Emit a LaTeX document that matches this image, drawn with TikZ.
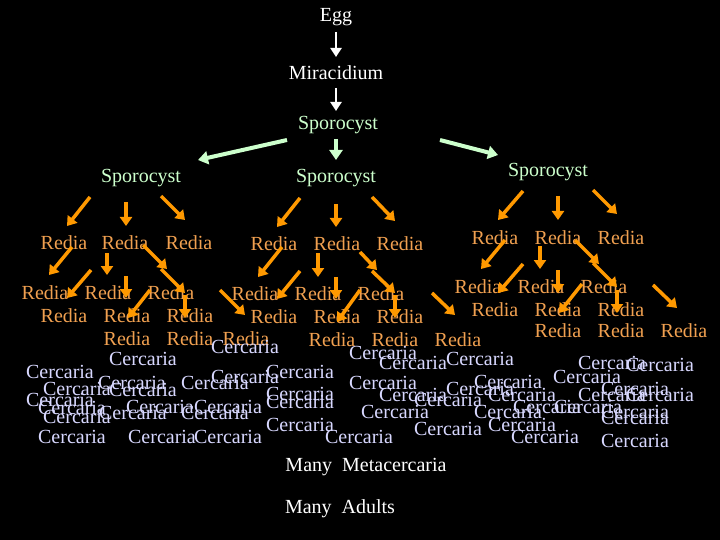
\documentclass[tikz,border=0pt]{standalone}
\usepackage{fontspec}
\setmainfont{Liberation Serif}
\usetikzlibrary{arrows.meta}
\definecolor{grn}{HTML}{CCFFCC}
\definecolor{org}{HTML}{FF9900}
\definecolor{otx}{HTML}{F0A050}
\definecolor{lav}{HTML}{D8D8FF}
\tikzset{
 txt/.style={inner sep=0pt,font=\fontsize{20}{20}\selectfont},
 wt/.style={txt,text=white},
 sp/.style={txt,text=grn},
 rd/.style={txt,text=otx},
 cc/.style={txt,text=lav},
 warr/.style={white,line width=2.5pt,-{Triangle[length=9pt,width=11pt]}},
 garr/.style={grn,line width=4pt,-{Triangle[length=10pt,width=13pt]}},
 oarr/.style={org,line width=3.5pt,-{Triangle[length=9pt,width=12pt]}}
}
\begin{document}
\begin{tikzpicture}[x=1pt,y=-1pt]
\fill[black] (0,0) rectangle (720,540);
\useasboundingbox (0,0) rectangle (720,540);
\node[wt] (egg) at (336,17) {Egg};
\node[wt] (mir) at (336,73) {Miracidium};
\node[sp] (sp0) at (338,125) {Sporocyst};
\node[sp] (sp1) at (141,178) {Sporocyst};
\node[sp] (sp2) at (336,178) {Sporocyst};
\node[sp] (sp3) at (548,172) {Sporocyst};
\coordinate (e1) at (336,32); \coordinate (e2) at (336,57);
\coordinate (m1) at (336,88); \coordinate (m2) at (336,111);
\draw[warr] (e1) -- (e2);
\draw[warr] (m1) -- (m2);
\coordinate (g1a) at (287,140); \coordinate (g1b) at (198,160);
\coordinate (g2a) at (336,139); \coordinate (g2b) at (336,160);
\coordinate (g3a) at (440,140); \coordinate (g3b) at (498,155);
\draw[garr] (g1a) -- (g1b);
\draw[garr] (g2a) -- (g2b);
\draw[garr] (g3a) -- (g3b);
% Redia
\foreach \x/\y [count=\i] in {64/243,125/243,189/243,274/244,337/244,400/244,495/238,558/238,621/238,
 45/293,108/293,171/293,255/294,318/294,381/294,478/287,541/287,604/287,
 64/316,127/316,190/316,274/317,337/317,400/317,495/310,558/310,621/310,
 127/339,190/339,246/339,332/340,395/340,458/340,558/331,621/331,684/331}
 \node[rd] (r\i) at (\x,\y) {Redia};
% orange arrows
\foreach \a/\b/\c/\d [count=\i] in {90/197/67/226,126/202/126/226,161/196/185/220,
 72/247/49/275,107/253/107/275,143/245/167/269,
 91/270/67/298,126/276/126/298,161/269/185/293,
 150/290/128/318,185/295/185/318,220/290/245/315,
 300/198/277/227,336/204/336/227,372/197/395/221,
 282/247/258/277,318/253/318/277,360/252/377/270,
 300/271/277/299,336/277/336/299,372/271/395/293,
 360/290/337/322,395/295/395/318,432/293/455/315,
 523/191/498/220,558/196/558/220,593/190/617/214,
 505/240/481/269,540/246/540/269,575/240/599/264,
 523/264/498/293,558/270/558/293,593/263/617/287,
 582/284/559/313,617/290/617/313,653/285/677/308}
 {\coordinate (oa\i) at (\a,\b); \coordinate (ob\i) at (\c,\d); \draw[oarr] (oa\i) -- (ob\i);}
% Cercaria
\foreach \x/\y [count=\i] in {143/359,60/372,77/389,132/383,143/390,215/383,245/377,300/372,245/347,
 60/400,72/408,77/417,133/413,160/407,228/407,215/413,300/394,300/402,300/425,72/437,162/437,228/437,
 383/353,413/363,480/359,383/383,508/382,587/377,612/363,660/365,413/395,448/400,480/389,522/395,
 612/395,660/395,635/389,395/412,508/412,547/407,588/407,635/412,635/418,448/429,522/425,545/437,
 635/441,359/437}
 \node[cc] (c\i) at (\x,\y) {Cercaria};
\node[wt] (meta) at (366,467) {Many\ \ Metacercaria};
\node[wt] (ad) at (340,509) {Many\ \ Adults};
\end{tikzpicture}
\end{document}
